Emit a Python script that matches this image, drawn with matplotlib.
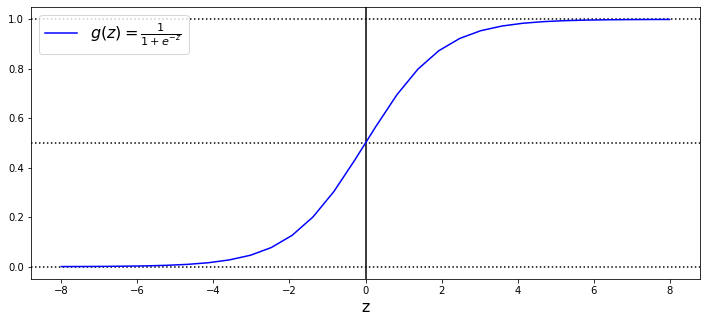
import matplotlib
matplotlib.use("Agg")
import matplotlib.pyplot as plt

# values
z = [-8.00, -7.45, -6.90, -6.34, -5.79, -5.24, -4.69, -4.14, -3.59, -3.03,
     -2.48, -1.93, -1.38, -0.83, -0.28, 0.28, 0.83, 1.38, 1.93, 2.48,
     3.03, 3.59, 4.14, 4.69, 5.24, 5.79, 6.34, 6.90, 7.45, 8.00]
g = [0.0003, 0.0006, 0.0010, 0.0018, 0.0030, 0.0053, 0.0091, 0.0157, 0.0270, 0.0459,
     0.0771, 0.1266, 0.2012, 0.3041, 0.4315, 0.5685, 0.6959, 0.7988, 0.8734, 0.9229,
     0.9541, 0.9730, 0.9843, 0.9909, 0.9947, 0.9970, 0.9982, 0.9990, 0.9994, 0.9997]
h_levels = [0.0, 0.5, 1.0]

fig = plt.figure(figsize=(706 / 72, 322 / 72), dpi=72)
ax = fig.add_axes([31 / 706, 43 / 322, 669 / 706, 272 / 322])

for level in h_levels:
    ax.axhline(level, color="k", ls=":")
ax.axvline(0, color="k", ls="-")
ax.plot(z, g, "b-", label=r"$g(z) = \frac{1}{1 + e^{-z}}$")

ax.set_xlabel("z", fontsize=16)
ax.legend(loc="upper left", fontsize=16)

fig.savefig("out.png", dpi=72)
